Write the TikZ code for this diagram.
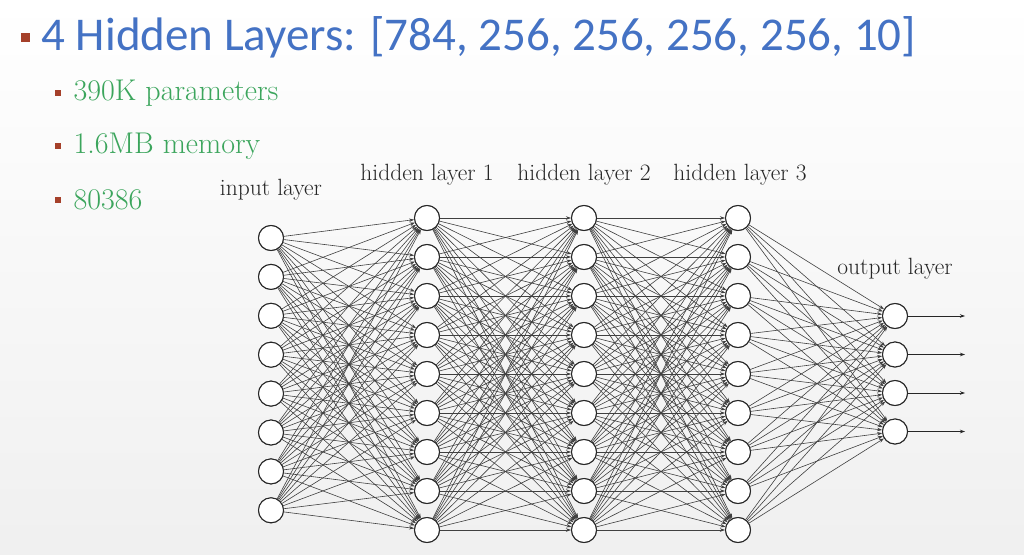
\documentclass[tikz,border=0pt]{standalone}
\usepackage{fontspec}
\newfontfamily\titlefont{Carlito}
\usetikzlibrary{arrows.meta}
\definecolor{titleblue}{HTML}{4472C4}
\definecolor{bulletred}{HTML}{A5402A}
\definecolor{txtgreen}{HTML}{3BA55C}
\tikzset{
  neuron/.style={circle,draw=black!85,line width=1pt,fill=white,minimum size=25pt,inner sep=0pt},
  conn/.style={draw=black!75,line width=0.6pt,-{Stealth[length=5pt,width=3.5pt]}},
  lbl/.style={font=\fontsize{23.5}{24}\selectfont,text=black!85},
  bul/.style={fill=bulletred,minimum size=6pt,inner sep=0pt},
  gtxt/.style={font=\fontsize{30}{32}\selectfont,text=txtgreen,anchor=west}
}
\begin{document}
\begin{tikzpicture}[x=1pt,y=-1pt]
\shade[top color=white,bottom color=black!6] (0,0) rectangle (1024,554);
\useasboundingbox (0,0) rectangle (1024,554);
% title
\node[minimum width=9pt,minimum height=9pt,fill=bulletred,inner sep=0pt] (tb) at (25,37) {};
\node[anchor=west,text=titleblue,font=\titlefont\fontsize{47}{49}\selectfont] (title) at (38,37) {4 Hidden Layers: [784, 256, 256, 256, 256, 10]};
\node[bul] (b1) at (58,93) {}; \node[gtxt] (t1) at (70,93) {390K parameters};
\node[bul] (b2) at (58,146) {}; \node[gtxt] (t2) at (70,146) {1.6MB memory};
\node[bul] (b3) at (58,200) {}; \node[gtxt] (t3) at (70,200) {80386};
% layer labels
\node[lbl] (li) at (271,190) {input layer};
\node[lbl] (lh1) at (427,175) {hidden layer 1};
\node[lbl] (lh2) at (584,175) {hidden layer 2};
\node[lbl] (lh3) at (740,175) {hidden layer 3};
\node[lbl] (lo) at (895,269) {output layer};
% neurons
\foreach \i in {1,...,8} \node[neuron] (I\i) at (271,{238+(\i-1)*38.9}) {};
\foreach \L/\x in {A/427,B/584,C/738}
  \foreach \i in {1,...,9} \node[neuron] (\L\i) at (\x,{218+(\i-1)*39}) {};
\foreach \i in {1,...,4} \node[neuron] (O\i) at (895,{316+(\i-1)*38.5}) {};
% connections
\foreach \i in {1,...,8} \foreach \j in {1,...,9} \draw[conn] (I\i) -- (A\j);
\foreach \i in {1,...,9} \foreach \j in {1,...,9} {\draw[conn] (A\i) -- (B\j); \draw[conn] (B\i) -- (C\j);}
\foreach \i in {1,...,9} \foreach \j in {1,...,4} \draw[conn] (C\i) -- (O\j);
% redraw neurons on top
\foreach \i in {1,...,8} \node[neuron] at (I\i) {};
\foreach \L in {A,B,C} \foreach \i in {1,...,9} \node[neuron] at (\L\i) {};
\foreach \i in {1,...,4} {
  \node[neuron] at (O\i) {};
  \coordinate (E\i) at ([xshift=70pt]O\i.center);
  \draw[conn,draw=black!85,line width=0.8pt] (O\i) -- (E\i);
}
\end{tikzpicture}
\end{document}
